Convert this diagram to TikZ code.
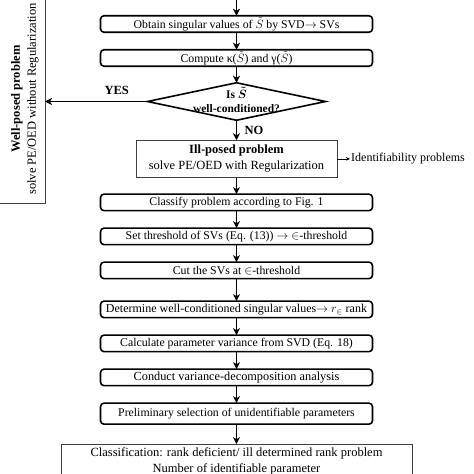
\documentclass[tikz,border=0pt]{standalone}
\usepackage{amsmath}
\usepackage{fontspec}
\setmainfont{Liberation Serif}
\usepackage{tikz}
\usetikzlibrary{shapes,arrows.meta,positioning,calc}

\begin{document}
\begin{tikzpicture}[
    x=1pt, y=-1pt,
    node distance=17.5pt,
    font=\fontsize{12.5}{16}\selectfont,
    box/.style={rectangle, rounded corners=3.5pt, draw, line width=1.6pt, outer sep=0pt, minimum width=272pt, minimum height=16.5pt, inner sep=1pt, align=center, font=\fontsize{11.8}{13}\selectfont},
    plainbox/.style={rectangle, draw=black!75, line width=0.7pt, outer sep=0pt, align=center, inner sep=2pt},
    decision/.style={diamond, draw, line width=1.6pt, outer sep=0pt, minimum width=178pt, minimum height=37.5pt, inner sep=0pt},
    condlabel/.style={align=center, inner sep=0pt, font=\fontsize{11.5}{14}\selectfont\bfseries},
    arrow/.style={-{Stealth[length=7pt,width=7pt,inset=2pt]}, line width=1.6pt},
    thinarrow/.style={-{Stealth[length=4pt,width=3.5pt]}, line width=0.6pt}
]

\useasboundingbox (0,0) rectangle (474,474);
\clip (0,0) rectangle (474,474);

\node[box] (svd) at (236.5,24) {Obtain singular values of $\tilde{S}$ by SVD$\rightarrow$ SVs};
\node[box, below=of svd] (kappa) {Compute κ($\tilde{S}$) and γ($\tilde{S}$)};
\node[decision, below=16.5pt of kappa] (cond) {};
\node[condlabel, yshift=1.5pt] (condtext) at (cond.center) {Is $\boldsymbol{\tilde{S}}$\\well-conditioned?};
\node[plainbox, below=20pt of cond, minimum width=201pt, minimum height=37.3pt] (ill) {\textbf{Ill-posed problem}\\solve PE/OED with Regularization};
\node[right=13pt of ill, inner sep=1pt, font=\fontsize{12}{14}\selectfont] (ident) {Identifiability problems};
\node[box, below=16.6pt of ill] (classify) {Classify problem according to Fig. 1};
\node[box, below=of classify] (thresh) {Set threshold of SVs (Eq. (13)) $\rightarrow$ $\in$-threshold};
\node[box, below=of thresh] (cut) {Cut the SVs at $\in$-threshold};
\node[box, below=22.5pt of cut, font=\fontsize{12}{14}\selectfont] (rank) {Determine well-conditioned singular values$\rightarrow$ $r_{\in}$ rank};
\node[box, below=of rank] (variance) {Calculate parameter variance from SVD (Eq. 18)};
\node[box, below=of variance, font=\fontsize{12.3}{14}\selectfont] (decomp) {Conduct variance-decomposition analysis};
\node[box, below=of decomp, minimum height=21pt] (select) {Preliminary selection of unidentifiable parameters};
\node[plainbox, below=20pt of select, minimum width=351pt, inner sep=4pt] (classif) {Classification: rank deficient/ ill determined rank problem\\Number of identifiable parameter};

% well-posed branch on the left
\node[plainbox, rotate=90, minimum width=215pt, minimum height=60pt] (wellframe) at (15,95.5) {};
\node[rotate=90, align=center] (well) at (25,99) {\textbf{Well-posed problem}\\solve PE/OED without Regularization};

\coordinate[above=22pt of svd] (start);

\draw[arrow] (start) -- (svd);
\draw[arrow] (svd) -- (kappa);
\draw[arrow] (kappa) -- (cond);
\draw[arrow] (cond.west) -- node[pos=0.3, above=3pt, font=\fontsize{12.5}{16}\selectfont\bfseries] {YES} (cond.west -| wellframe.south);
\draw[arrow] (cond) -- node[right=4pt, font=\fontsize{12.5}{16}\selectfont\bfseries] {NO} (ill);
\draw[thinarrow] (ill) -- (ident);
\draw[arrow] (ill) -- (classify);
\draw[arrow] (classify) -- (thresh);
\draw[arrow] (thresh) -- (cut);
\draw[arrow] (cut) -- (rank);
\draw[arrow] (rank) -- (variance);
\draw[arrow] (variance) -- (decomp);
\draw[arrow] (decomp) -- (select);
\draw[arrow] (select) -- (classif);

\end{tikzpicture}
\end{document}
